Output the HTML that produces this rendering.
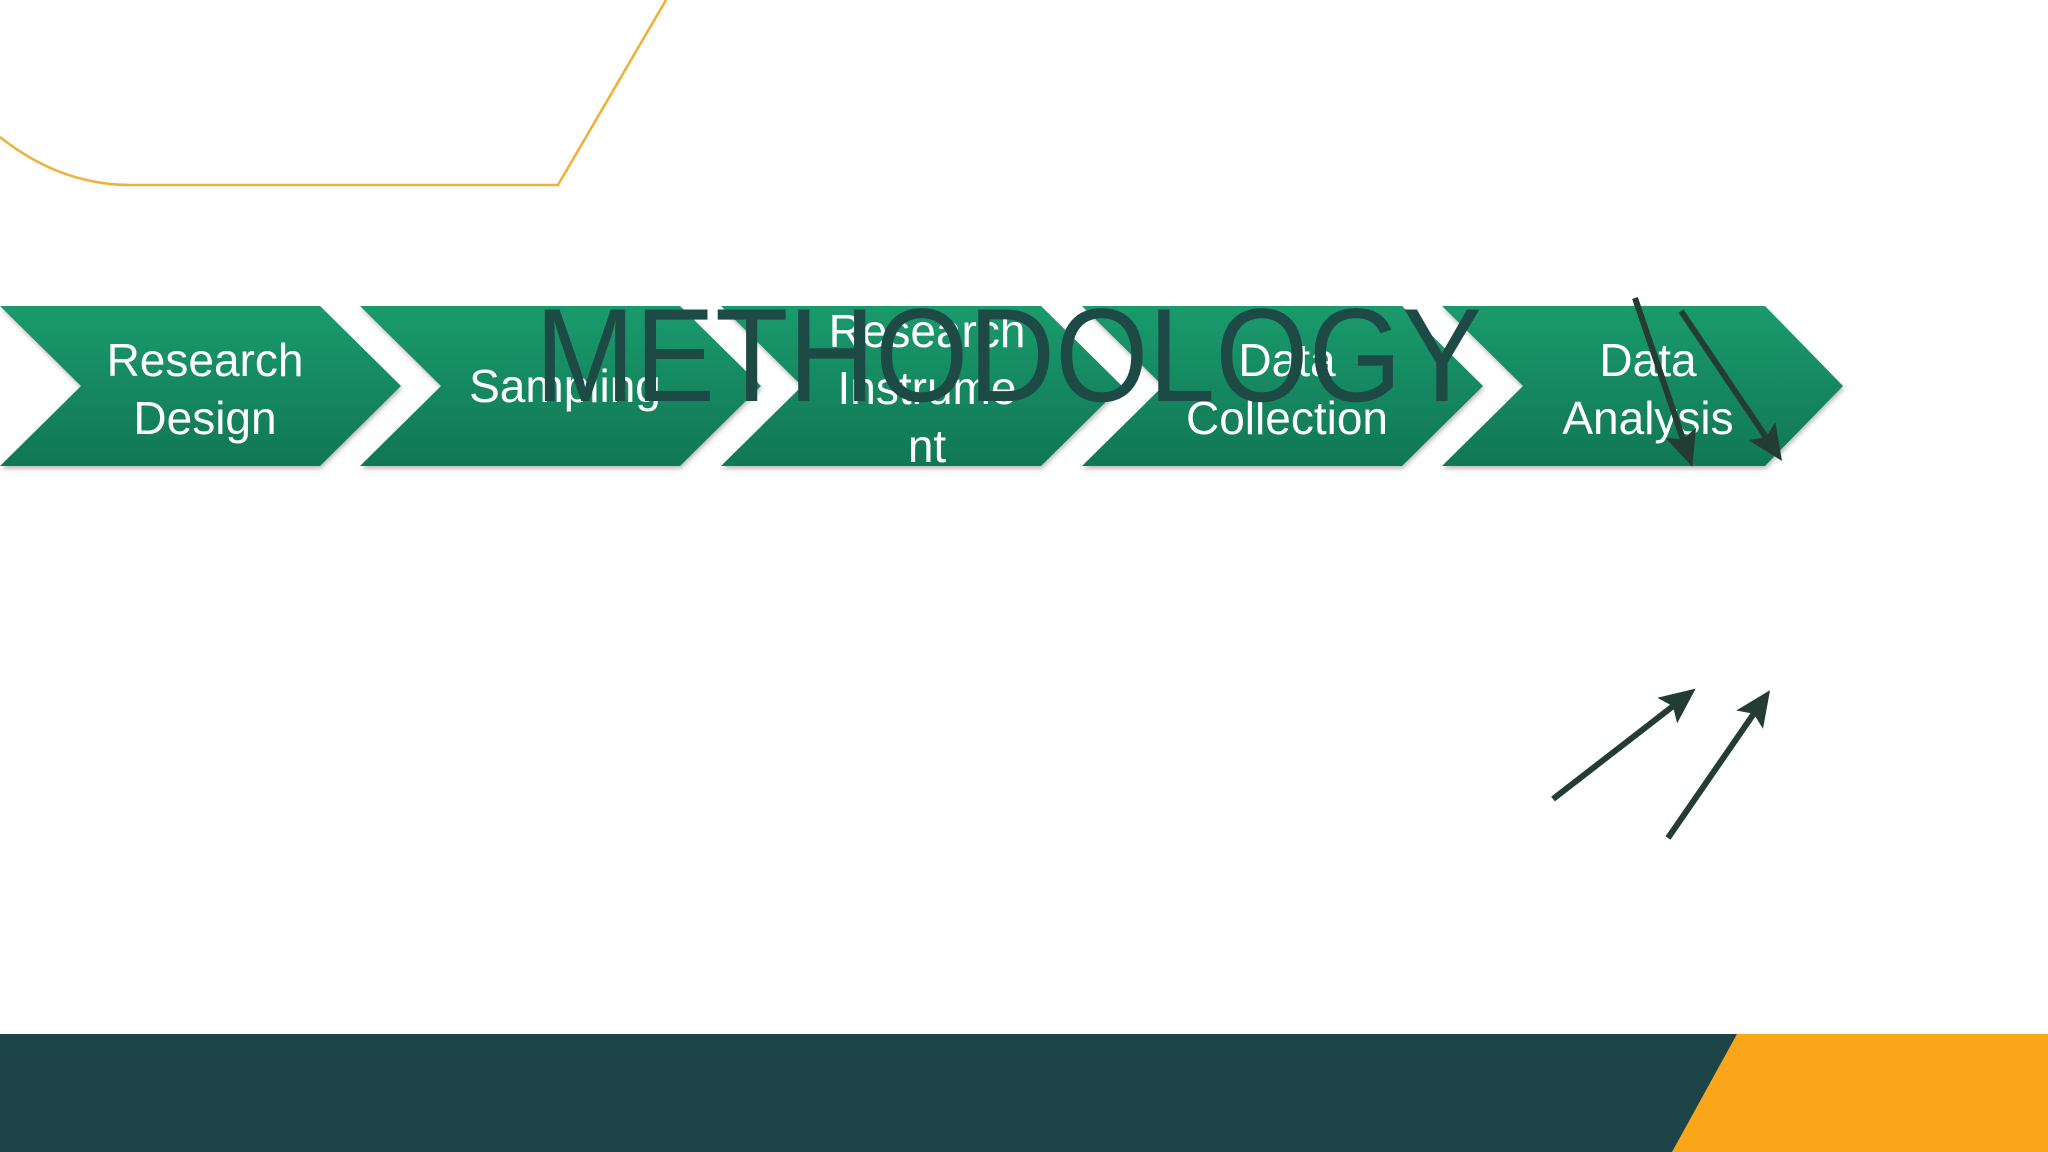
<!DOCTYPE html>
<html><head><meta charset="utf-8"><style>
html,body{margin:0;padding:0;background:#fff;width:2048px;height:1152px;overflow:hidden}
</style></head><body>
<svg width="2048" height="1152" viewBox="0 0 2048 1152" xmlns="http://www.w3.org/2000/svg">
<defs>
<linearGradient id="g" x1="0" y1="0" x2="0" y2="1">
<stop offset="0" stop-color="#1a9a6d"/><stop offset="1" stop-color="#117755"/>
</linearGradient>
<marker id="ah" viewBox="0 0 10 10" refX="8" refY="5" markerWidth="6" markerHeight="6" orient="auto">
<path d="M0,0.5 L10,5 L0,9.5 L2,5 z" fill="#233d34"/>
</marker>
</defs>
<path d="M0,137 Q60,185 131,185 L558,185 L666,0" fill="none" stroke="#f0b13c" stroke-width="2.6"/>
<g fill="url(#g)" style="filter:drop-shadow(1px 3px 2px rgba(0,0,0,0.25))">
<polygon points="0,306 320,306 401,386 320,466 0,466 81,386"/>
<polygon points="360,306 680,306 761,386 680,466 360,466 441,386"/>
<polygon points="721,306 1041,306 1122,386 1041,466 721,466 802,386"/>
<polygon points="1082,306 1402,306 1483,386 1402,466 1082,466 1163,386"/>
<polygon points="1442,306 1765,306 1843,386 1765,466 1442,466 1523,386"/>
</g>
<g fill="#fff" font-family="Liberation Sans, sans-serif" font-size="46" text-anchor="middle">
<text x="205" y="376">Research</text><text x="205" y="434">Design</text>
<text x="565" y="402">Sampling</text>
<text x="927" y="347">Research</text><text x="927" y="404">Instrume</text><text x="927" y="462">nt</text>
<text x="1287" y="376">Data</text><text x="1287" y="434">Collection</text>
<text x="1648" y="376">Data</text><text x="1648" y="434">Analysis</text>
</g>
<text x="535" y="401" font-family="Liberation Sans, sans-serif" font-size="133" fill="#1e4a45" textLength="947" lengthAdjust="spacingAndGlyphs">METHODOLOGY</text>
<g stroke="#233d34" stroke-width="6" fill="none" marker-end="url(#ah)">
<line x1="1635" y1="298" x2="1690" y2="460"/>
<line x1="1681" y1="311" x2="1778" y2="455"/>
<line x1="1553" y1="799" x2="1690" y2="693"/>
<line x1="1668" y1="838" x2="1766" y2="696"/>
</g>
<rect x="0" y="1034" width="2048" height="118" fill="#1d4547"/>
<polygon points="1737,1034 2048,1034 2048,1152 1672,1152" fill="#fba51a"/>
</svg>
</body></html>
